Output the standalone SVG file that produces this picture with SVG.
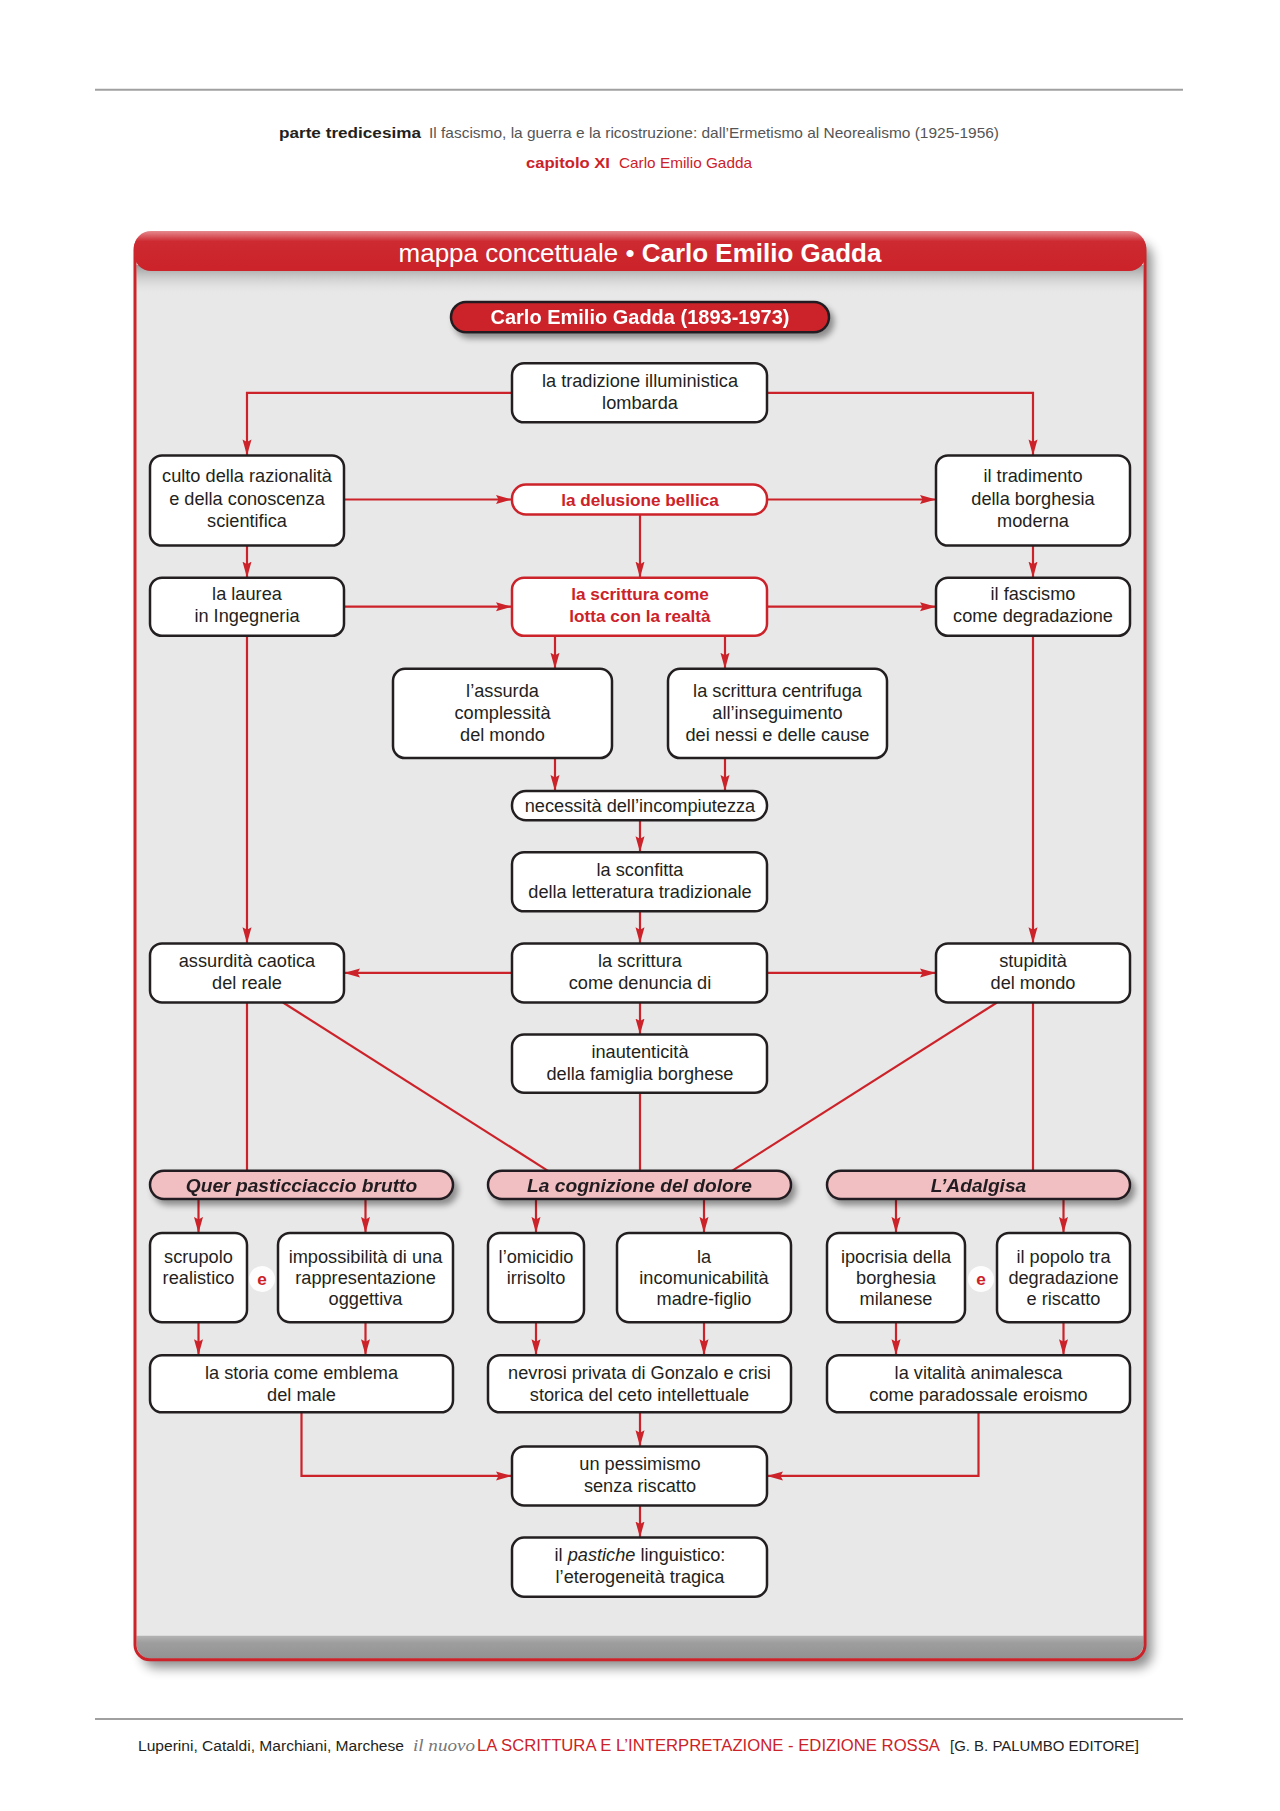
<svg xmlns="http://www.w3.org/2000/svg" width="1280" height="1811" viewBox="0 0 1280 1811">
<defs>
<style>
.txt{font-family:"Liberation Sans",Arial,Helvetica,sans-serif;font-size:18.2px;fill:#231f20;text-anchor:middle}
.node rect{fill:#ffffff;stroke:#231f20;stroke-width:2.5}
.rnode rect{fill:#ffffff;stroke:#cc2229;stroke-width:2.5}
.rtxt{font-family:"Liberation Sans",Arial,Helvetica,sans-serif;font-size:17.2px;font-weight:bold;fill:#cc2229;text-anchor:middle}
.pill rect{fill:#f1bfc1;stroke:#231f20;stroke-width:2.5}
.ptxt{font-family:"Liberation Sans",Arial,Helvetica,sans-serif;font-size:19.2px;font-weight:bold;font-style:italic;fill:#231f20;text-anchor:middle}
.conn path{fill:none;stroke:#cc2229;stroke-width:2.2}
.arr{marker-end:url(#ah)}
.hdr{font-family:"Liberation Sans",Arial,Helvetica,sans-serif}
</style>
<marker id="ah" viewBox="0 0 16 10" refX="16" refY="5" markerWidth="16" markerHeight="10" markerUnits="userSpaceOnUse" orient="auto">
<path d="M0,0.5 L16,5 L0,9.5 L2.5,5 Z" fill="#cc2229"/>
</marker>
<filter id="fshadow" x="-5%" y="-5%" width="115%" height="115%">
<feGaussianBlur in="SourceAlpha" stdDeviation="6"/>
<feOffset dx="7" dy="8" result="b"/>
<feComponentTransfer><feFuncA type="linear" slope="0.45"/></feComponentTransfer>
<feMerge><feMergeNode/><feMergeNode in="SourceGraphic"/></feMerge>
</filter>
<filter id="pshadow" x="-10%" y="-40%" width="125%" height="200%">
<feGaussianBlur in="SourceAlpha" stdDeviation="3"/>
<feOffset dx="4" dy="5" result="b"/>
<feComponentTransfer><feFuncA type="linear" slope="0.4"/></feComponentTransfer>
<feMerge><feMergeNode/><feMergeNode in="SourceGraphic"/></feMerge>
</filter>
<linearGradient id="barg" x1="0" y1="0" x2="0" y2="1">
<stop offset="0" stop-color="#e58a8e"/>
<stop offset="0.26" stop-color="#cd2a31"/>
<stop offset="1" stop-color="#cc2229"/>
</linearGradient>
<linearGradient id="barsh" x1="0" y1="0" x2="0" y2="1">
<stop offset="0" stop-color="#8a8a8a" stop-opacity="0.85"/>
<stop offset="1" stop-color="#e8e8e8" stop-opacity="0"/>
</linearGradient>
<linearGradient id="botg" x1="0" y1="0" x2="0" y2="1">
<stop offset="0" stop-color="#b4b4b4"/>
<stop offset="0.3" stop-color="#9e9e9e"/>
<stop offset="1" stop-color="#929292"/>
</linearGradient>
</defs>

<rect width="1280" height="1811" fill="#ffffff"/>

<g transform="matrix(1 0 0 1.002 0 -0.5)">
<!-- page header -->
<line x1="95" y1="90" x2="1183" y2="90" stroke="#a0a0a0" stroke-width="2"/>
<text class="hdr" x="279" y="138" font-size="15.5" font-weight="bold" fill="#231f20" textLength="142" lengthAdjust="spacingAndGlyphs">parte tredicesima</text>
<text class="hdr" x="429" y="138" font-size="15.5" fill="#555555" textLength="570" lengthAdjust="spacingAndGlyphs">Il fascismo, la guerra e la ricostruzione: dall’Ermetismo al Neorealismo (1925-1956)</text>
<text class="hdr" x="526" y="168" font-size="15.5" font-weight="bold" fill="#cc2229" textLength="84" lengthAdjust="spacingAndGlyphs">capitolo XI</text>
<text class="hdr" x="619" y="168" font-size="15.5" fill="#cc2229" textLength="133" lengthAdjust="spacingAndGlyphs">Carlo Emilio Gadda</text>

<!-- frame -->
<g id="frame">
<rect x="135" y="235" width="1010" height="1422" rx="15" fill="#e8e8e8" filter="url(#fshadow)"/>
<path d="M136.5,1633 H1143.5 V1641 A15,15 0 0 1 1128.5,1656 H151.5 A15,15 0 0 1 136.5,1641 Z" fill="url(#botg)"/>
<rect x="136.5" y="265" width="1007" height="30" fill="url(#barsh)"/>
<rect x="135" y="235" width="1010" height="1422" rx="15" fill="none" stroke="#cc2229" stroke-width="3"/>
<rect x="134" y="231" width="1012" height="40" rx="17" fill="url(#barg)"/>
<text class="hdr" x="640" y="262" font-size="26" fill="#ffffff" text-anchor="middle">mappa concettuale • <tspan font-weight="bold">Carlo Emilio Gadda</tspan></text>
</g>

<!-- connectors -->
<g id="connectors" class="conn">
<path class="arr" d="M512,392.5 H247 V455"/>
<path class="arr" d="M767,392.5 H1033 V455"/>
<path class="arr" d="M344,499 H512"/>
<path class="arr" d="M767,499 H936"/>
<path class="arr" d="M640,514 V577"/>
<path class="arr" d="M247,545 V577"/>
<path class="arr" d="M1033,545 V577"/>
<path class="arr" d="M344,606 H512"/>
<path class="arr" d="M767,606 H936"/>
<path class="arr" d="M555,635 V668"/>
<path class="arr" d="M725,635 V668"/>
<path class="arr" d="M555,757 V790"/>
<path class="arr" d="M725,757 V790"/>
<path class="arr" d="M640,819 V851"/>
<path class="arr" d="M640,910 V942"/>
<path class="arr" d="M247,635 V942"/>
<path class="arr" d="M1033,635 V942"/>
<path class="arr" d="M512,971.5 H344"/>
<path class="arr" d="M767,971.5 H936"/>
<path class="arr" d="M640,1001 V1033"/>
<path d="M247,1001 V1169"/>
<path d="M283,1001 L548,1169"/>
<path d="M640,1091 V1169"/>
<path d="M997,1001 L732,1169"/>
<path d="M1033,1001 V1169"/>
<path class="arr" d="M198.5,1197 V1231"/>
<path class="arr" d="M365.5,1197 V1231"/>
<path class="arr" d="M536,1197 V1231"/>
<path class="arr" d="M704,1197 V1231"/>
<path class="arr" d="M896,1197 V1231"/>
<path class="arr" d="M1063.5,1197 V1231"/>
<path class="arr" d="M198.5,1320 V1353"/>
<path class="arr" d="M365.5,1320 V1353"/>
<path class="arr" d="M536,1320 V1353"/>
<path class="arr" d="M704,1320 V1353"/>
<path class="arr" d="M896,1320 V1353"/>
<path class="arr" d="M1063.5,1320 V1353"/>
<path class="arr" d="M301.5,1410 V1473.5 H512"/>
<path class="arr" d="M978.5,1410 V1473.5 H767"/>
<path class="arr" d="M640,1410 V1444"/>
<path class="arr" d="M640,1503 V1535"/>
</g>

<!-- nodes -->
<g id="n-title" filter="url(#pshadow)">
<rect x="451" y="302" width="378" height="30" rx="15" fill="#cc2229" stroke="#231f20" stroke-width="2.5"/>
<text x="640" y="324" font-family="'Liberation Sans',Arial,Helvetica,sans-serif" font-size="20" font-weight="bold" fill="#ffffff" text-anchor="middle">Carlo Emilio Gadda (1893-1973)</text>
</g>
<g id="n-tradizione" class="node"><rect x="512" y="363" width="255" height="59" rx="12"/>
<text class="txt" x="640" y="387">la tradizione illuministica</text><text class="txt" x="640" y="409">lombarda</text></g>
<g id="n-culto" class="node"><rect x="150" y="455" width="194" height="90" rx="12"/>
<text class="txt" x="247" y="482">culto della razionalità</text><text class="txt" x="247" y="504">e della conoscenza</text><text class="txt" x="247" y="526">scientifica</text></g>
<g id="n-delusione" class="rnode"><rect x="512" y="484" width="255" height="30" rx="14"/>
<text class="rtxt" x="640" y="505">la delusione bellica</text></g>
<g id="n-tradimento" class="node"><rect x="936" y="455" width="194" height="90" rx="12"/>
<text class="txt" x="1033" y="482">il tradimento</text><text class="txt" x="1033" y="504">della borghesia</text><text class="txt" x="1033" y="526">moderna</text></g>
<g id="n-laurea" class="node"><rect x="150" y="577" width="194" height="58" rx="12"/>
<text class="txt" x="247" y="599.5">la laurea</text><text class="txt" x="247" y="621.5">in Ingegneria</text></g>
<g id="n-lotta" class="rnode"><rect x="512" y="577" width="255" height="58" rx="12"/>
<text class="rtxt" x="640" y="599.5">la scrittura come</text><text class="rtxt" x="640" y="621.5">lotta con la realtà</text></g>
<g id="n-fascismo" class="node"><rect x="936" y="577" width="194" height="58" rx="12"/>
<text class="txt" x="1033" y="599.5">il fascismo</text><text class="txt" x="1033" y="621.5">come degradazione</text></g>
<g id="n-assurda" class="node"><rect x="393" y="668" width="219" height="89" rx="12"/>
<text class="txt" x="502.5" y="696.5">l’assurda</text><text class="txt" x="502.5" y="718.5">complessità</text><text class="txt" x="502.5" y="740.5">del mondo</text></g>
<g id="n-centrifuga" class="node"><rect x="668" y="668" width="219" height="89" rx="12"/>
<text class="txt" x="777.5" y="696.5">la scrittura centrifuga</text><text class="txt" x="777.5" y="718.5">all’inseguimento</text><text class="txt" x="777.5" y="740.5">dei nessi e delle cause</text></g>
<g id="n-necessita" class="node"><rect x="512" y="790" width="255" height="29" rx="14"/>
<text class="txt" x="640" y="810.5">necessità dell’incompiutezza</text></g>
<g id="n-sconfitta" class="node"><rect x="512" y="851" width="255" height="59" rx="12"/>
<text class="txt" x="640" y="874.5">la sconfitta</text><text class="txt" x="640" y="896.5">della letteratura tradizionale</text></g>
<g id="n-assurdita" class="node"><rect x="150" y="942" width="194" height="59" rx="12"/>
<text class="txt" x="247" y="965.5">assurdità caotica</text><text class="txt" x="247" y="987.5">del reale</text></g>
<g id="n-denuncia" class="node"><rect x="512" y="942" width="255" height="59" rx="12"/>
<text class="txt" x="640" y="965.5">la scrittura</text><text class="txt" x="640" y="987.5">come denuncia di</text></g>
<g id="n-stupidita" class="node"><rect x="936" y="942" width="194" height="59" rx="12"/>
<text class="txt" x="1033" y="965.5">stupidità</text><text class="txt" x="1033" y="987.5">del mondo</text></g>
<g id="n-inautenticita" class="node"><rect x="512" y="1033" width="255" height="58" rx="12"/>
<text class="txt" x="640" y="1056.5">inautenticità</text><text class="txt" x="640" y="1078.5">della famiglia borghese</text></g>

<g id="n-quer" class="pill" filter="url(#pshadow)"><rect x="150" y="1169" width="303" height="28" rx="14"/>
<text class="ptxt" x="301.5" y="1190">Quer pasticciaccio brutto</text></g>
<g id="n-cognizione" class="pill" filter="url(#pshadow)"><rect x="488" y="1169" width="303" height="28" rx="14"/>
<text class="ptxt" x="639.5" y="1190">La cognizione del dolore</text></g>
<g id="n-adalgisa" class="pill" filter="url(#pshadow)"><rect x="827" y="1169" width="303" height="28" rx="14"/>
<text class="ptxt" x="978.5" y="1190">L’Adalgisa</text></g>

<g id="n-scrupolo" class="node"><rect x="150" y="1231" width="97" height="89" rx="12"/>
<text class="txt" x="198.5" y="1260.5">scrupolo</text><text class="txt" x="198.5" y="1281.5">realistico</text></g>
<g id="n-impossibilita" class="node"><rect x="278" y="1231" width="175" height="89" rx="12"/>
<text class="txt" x="365.5" y="1260.5">impossibilità di una</text><text class="txt" x="365.5" y="1281.5">rappresentazione</text><text class="txt" x="365.5" y="1302.5">oggettiva</text></g>
<g id="n-omicidio" class="node"><rect x="488" y="1231" width="96" height="89" rx="12"/>
<text class="txt" x="536" y="1260.5">l’omicidio</text><text class="txt" x="536" y="1281.5">irrisolto</text></g>
<g id="n-incomunicabilita" class="node"><rect x="617" y="1231" width="174" height="89" rx="12"/>
<text class="txt" x="704" y="1260.5">la</text><text class="txt" x="704" y="1281.5">incomunicabilità</text><text class="txt" x="704" y="1302.5">madre-figlio</text></g>
<g id="n-ipocrisia" class="node"><rect x="827" y="1231" width="138" height="89" rx="12"/>
<text class="txt" x="896" y="1260.5">ipocrisia della</text><text class="txt" x="896" y="1281.5">borghesia</text><text class="txt" x="896" y="1302.5">milanese</text></g>
<g id="n-popolo" class="node"><rect x="997" y="1231" width="133" height="89" rx="12"/>
<text class="txt" x="1063.5" y="1260.5">il popolo tra</text><text class="txt" x="1063.5" y="1281.5">degradazione</text><text class="txt" x="1063.5" y="1302.5">e riscatto</text></g>

<g id="e-left"><circle cx="262" cy="1277" r="13" fill="#ffffff" opacity="0.9"/>
<text class="rtxt" x="262" y="1283" font-size="17">e</text></g>
<g id="e-right"><circle cx="981" cy="1277" r="13" fill="#ffffff" opacity="0.9"/>
<text class="rtxt" x="981" y="1283" font-size="17">e</text></g>

<g id="n-storia" class="node"><rect x="150" y="1353" width="303" height="57" rx="12"/>
<text class="txt" x="301.5" y="1376.5">la storia come emblema</text><text class="txt" x="301.5" y="1398.5">del male</text></g>
<g id="n-nevrosi" class="node"><rect x="488" y="1353" width="303" height="57" rx="12"/>
<text class="txt" x="639.5" y="1376.5">nevrosi privata di Gonzalo e crisi</text><text class="txt" x="639.5" y="1398.5">storica del ceto intellettuale</text></g>
<g id="n-vitalita" class="node"><rect x="827" y="1353" width="303" height="57" rx="12"/>
<text class="txt" x="978.5" y="1376.5">la vitalità animalesca</text><text class="txt" x="978.5" y="1398.5">come paradossale eroismo</text></g>
<g id="n-pessimismo" class="node"><rect x="512" y="1444" width="255" height="59" rx="12"/>
<text class="txt" x="640" y="1467.5">un pessimismo</text><text class="txt" x="640" y="1489.5">senza riscatto</text></g>
<g id="n-pastiche" class="node"><rect x="512" y="1535" width="255" height="59" rx="12"/>
<text class="txt" x="640" y="1558.5">il <tspan font-style="italic">pastiche</tspan> linguistico:</text><text class="txt" x="640" y="1580.5">l’eterogeneità tragica</text></g>

<!-- footer -->
<line x1="95" y1="1716" x2="1183" y2="1716" stroke="#a0a0a0" stroke-width="2"/>
<text class="hdr" x="138" y="1748" font-size="15" fill="#231f20" textLength="266" lengthAdjust="spacingAndGlyphs">Luperini, Cataldi, Marchiani, Marchese</text>
<text x="413" y="1748" font-family="'Liberation Serif','Times New Roman',serif" font-size="17" font-style="italic" fill="#777777" textLength="62" lengthAdjust="spacingAndGlyphs">il nuovo</text>
<text class="hdr" x="477" y="1748" font-size="16" fill="#cc2229" textLength="463" lengthAdjust="spacingAndGlyphs">LA SCRITTURA E L’INTERPRETAZIONE - EDIZIONE ROSSA</text>
<text class="hdr" x="950" y="1748" font-size="14" fill="#231f20" textLength="189" lengthAdjust="spacingAndGlyphs">[G. B. PALUMBO EDITORE]</text>
</g>
</svg>
